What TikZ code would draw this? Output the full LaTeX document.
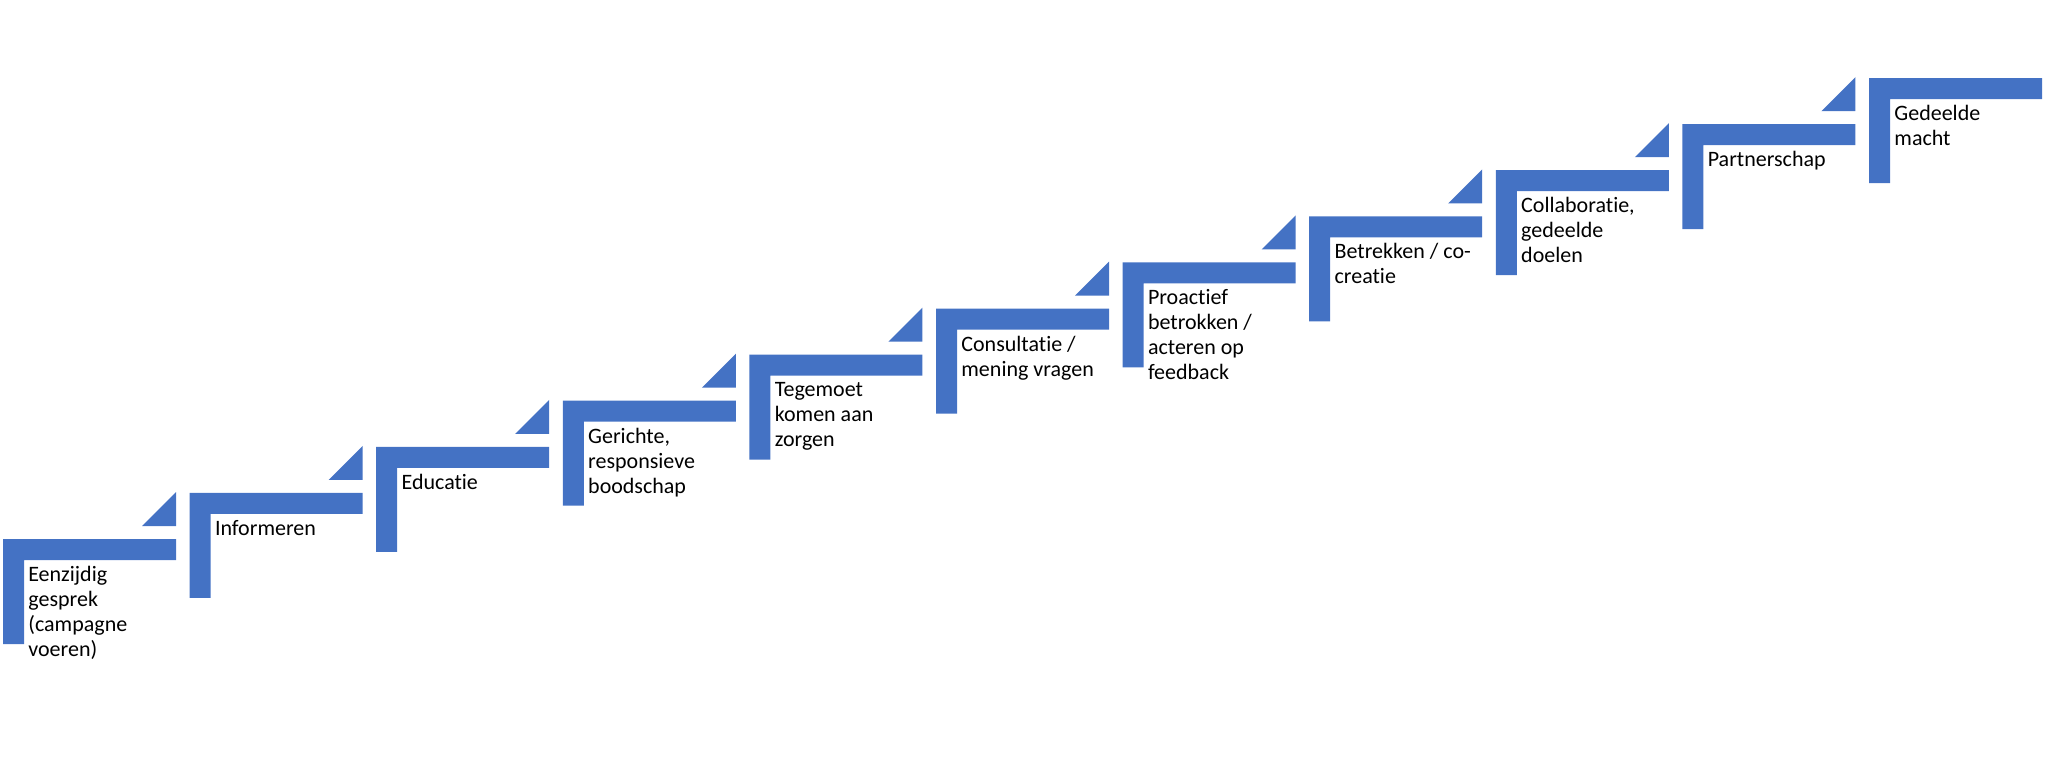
\documentclass[tikz,border=0pt]{standalone}
\usepackage{fontspec}
\setmainfont{Carlito}[Ligatures=NoCommon]
\definecolor{stepblue}{HTML}{4472C4}

\begin{document}
\begin{tikzpicture}[x=0.5pt, y=-0.5pt,
    every node/.style={font=\fontsize{11}{12.5}\selectfont, inner sep=0pt, anchor=north west, align=left},
    stepbar/.style={fill=stepblue, draw=none}]
  \useasboundingbox (0,0) rectangle (2048,777);

  % Steps: L-shaped bar, label below it, small triangle to the upper right
  \foreach \i/\txt in {0/{Eenzijdig\\gesprek\\(campagne\\voeren)},
                       1/{Informeren},
                       2/{Educatie},
                       3/{Gerichte,\\responsieve\\boodschap},
                       4/{Tegemoet\\komen aan\\zorgen},
                       5/{Consultatie /\\mening vragen},
                       6/{Proactief\\betrokken /\\acteren op\\feedback},
                       7/{Betrekken / co-\\creatie},
                       8/{Collaboratie,\\gedeelde\\doelen},
                       9/{Partnerschap},
                       10/{Gedeelde\\macht}} {
    \pgfmathsetmacro{\sx}{3+186.6*\i}
    \pgfmathsetmacro{\sy}{539-46.1*\i}
    \fill[stepbar] (\sx,\sy) -- ++(173,0) -- ++(0,21) -- ++(-152,0) -- ++(0,84) -- ++(-21,0) -- cycle;
    \node (lbl\i) at (\sx+25,\sy+27) {\txt};
    \ifnum\i<10
      \fill[stepbar] (\sx+173,\sy-13) -- ++(-34,0) -- ++(34,-34) -- cycle;
    \fi
  }
\end{tikzpicture}
\end{document}
